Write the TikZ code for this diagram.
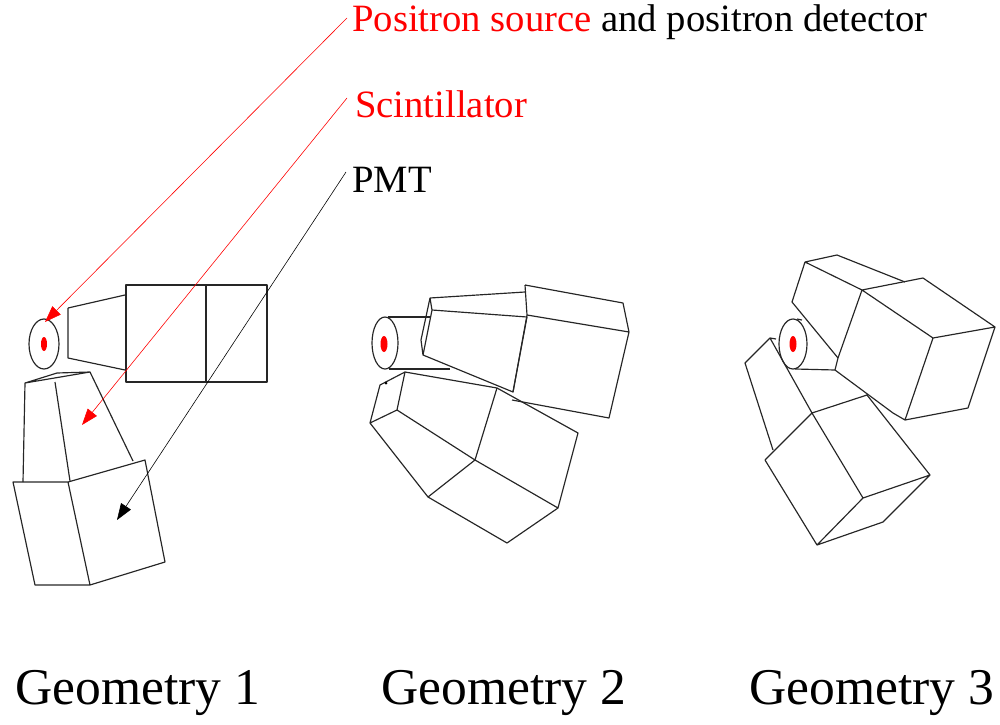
\documentclass[tikz,border=0pt]{standalone}
\usepackage{fontspec}
\setmainfont{Liberation Serif}
\usetikzlibrary{arrows.meta}
\begin{document}
\begin{tikzpicture}[x=0.03cm,y=-0.03cm,
  ln/.style={line width=1pt,draw=black!85,line join=round},
  dot/.style={fill=red,draw=none},
  arr/.style={line width=0.5pt,-{Triangle[length=14pt,width=10pt]}},
  lab/.style={font=\fontsize{33}{38}\selectfont,anchor=west,inner sep=0pt},
  geo/.style={font=\fontsize{44}{50}\selectfont,inner sep=0pt}]
\useasboundingbox (0,0) rectangle (1000,725);
% ---------- Geometry 1
\draw[ln] (44,344) ellipse (15 and 25);
\fill[dot] (44,344) ellipse (3 and 7);
\draw[ln] (68,308)--(125,295) (68,308)--(68,358)--(125,370);
\draw[ln] (126,285) rectangle (267,382) (206,285)--(206,382);
\draw[ln] (23,482)--(25,383)--(57,373)--(90,372)--(133,461) (25,383)--(90,372) (55,382)--(70,481);
\draw[ln] (13,482)--(68,482)--(145,460)--(165,562)--(90,585)--(35,585)--cycle (68,482)--(90,585);
% ---------- Geometry 2
\draw[ln] (385,343) ellipse (13 and 26);
\fill[dot] (384,344) ellipse (3.5 and 8);
\draw[ln] (388,317)--(430,317) (389,369)--(450,369);
\draw[ln] (430,298)--(525,292) (430,298)--(432,310)--(527,317)--(513,392)--(423,355)--(421,340)--(430,298) (432,310)--(423,355);
\draw[ln] (525,285)--(623,303)--(629,332)--(609,418)--(512,400) (525,285)--(527,315)--(629,332) (527,315)--(513,392);
\draw[ln] (380,385)--(405,372)--(497,388) (380,385)--(370,423)--(428,497) (405,372)--(397,410)--(475,460) (370,423)--(397,410) (497,388)--(475,460);
\fill (386,383) circle (1.5);
\draw[ln] (497,388)--(578,433)--(558,508)--(507,543)--(428,497)--(475,460)--(558,508);
% ---------- Geometry 3
\draw[ln] (793,344) ellipse (14 and 25);
\fill[dot] (793,344) ellipse (3.5 and 8);
\draw[ln] (797,319)--(802,320) (795,369)--(835,370);
\draw[ln] (805,262)--(837,255)--(905,282) (805,262)--(862,290) (805,262)--(792,302)--(838,358);
\draw[ln] (862,290)--(923,278)--(995,327)--(968,408)--(905,420)--(893,413) (862,290)--(933,338)--(995,327) (933,338)--(905,420) (862,290)--(838,358)--(835,370);
\draw[ln] (773,450)--(745,363)--(770,338)--(776,339) (770,338)--(812,413) (835,370)--(893,413) (812,413)--(867,395);
\draw[ln] (765,460)--(812,413) (867,395)--(930,475)--(863,498)--(812,413) (930,475)--(883,522)--(817,545)--(765,460) (863,498)--(817,545);
% ---------- labels and arrows
\node[lab] (ps) at (352,22) {\textcolor{red}{Positron source} and positron detector};
\node[lab] (sc) at (355,104) {\textcolor{red}{Scintillator}};
\node[lab] (pmt) at (352,180) {PMT};
\coordinate (t1) at (45,322);
\coordinate (t2) at (82,425);
\coordinate (t3) at (117,520);
\draw[arr,red] (ps.west) ++(-5,-4) -- (t1);
\draw[arr,red] (sc.west) ++(-8,-6) -- (t2);
\draw[arr,black] (pmt.west) ++(-6,-8) -- (t3);
\node[geo] (g1) at (138,693) {Geometry 1};
\node[geo] (g2) at (504,693) {Geometry 2};
\node[geo] (g3) at (872,693) {Geometry 3};
\end{tikzpicture}
\end{document}
